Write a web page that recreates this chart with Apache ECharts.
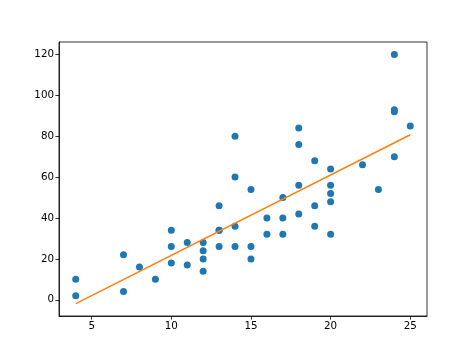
<!DOCTYPE html>
<html>
<head>
<meta charset="utf-8">
<script src="https://cdn.jsdelivr.net/npm/echarts@6/dist/echarts.min.js"></script>
<style>
  html, body { margin: 0; padding: 0; background: #fff; }
  #chart { width: 474px; height: 355px; }
</style>
</head>
<body>
<div id="chart"></div>
<script>
// 数据：speed 与 dist 散点
const speed = [4, 4, 7, 7, 8, 9, 10, 10, 10, 11, 11, 12, 12, 12, 12, 13, 13, 13, 13, 14, 14, 14, 14, 15, 15, 15, 16, 16, 17, 17, 17, 18, 18, 18, 18, 19, 19, 19, 20, 20, 20, 20, 20, 22, 23, 24, 24, 24, 24, 25];
const dist = [2, 10, 4, 22, 16, 10, 18, 26, 34, 17, 28, 14, 20, 24, 28, 26, 34, 34, 46, 26, 36, 60, 80, 20, 26, 54, 32, 40, 32, 40, 50, 42, 56, 76, 84, 36, 46, 68, 32, 48, 52, 56, 64, 66, 54, 70, 92, 93, 120, 85];
// 拟合直线两端点
const fitX = [4, 25];
const fitY = [-1.85, 80.73];
const xTicks = [5, 10, 15, 20, 25];
const yTicks = [0, 20, 40, 60, 80, 100, 120];

const chart = echarts.init(document.getElementById('chart'));

const axisCommon = {
  type: 'value',
  axisLine: { show: true, onZero: false, lineStyle: { color: '#000', width: 0.8 } },
  axisTick: { show: true, length: 3.6, lineStyle: { color: '#000', width: 0.8 } },
  axisLabel: { color: '#000', fontFamily: 'DejaVu Sans', fontSize: 10.3, margin: 5 },
  splitLine: { show: false }
};

chart.setOption({
  animation: false,
  grid: { left: 59, right: 47, top: 42, bottom: 39, show: true, borderColor: '#000', borderWidth: 0.8 },
  xAxis: Object.assign({}, axisCommon, {
    min: 2.95, max: 26.05,
    axisTick: Object.assign({}, axisCommon.axisTick, { customValues: xTicks }),
    axisLabel: Object.assign({}, axisCommon.axisLabel, { customValues: xTicks })
  }),
  yAxis: Object.assign({}, axisCommon, {
    min: -7.94, max: 126.1,
    axisTick: Object.assign({}, axisCommon.axisTick, { customValues: yTicks }),
    axisLabel: Object.assign({}, axisCommon.axisLabel, { customValues: yTicks })
  }),
  series: [
    {
      type: 'scatter',
      data: speed.map((s, i) => [s, dist[i]]),
      symbolSize: 7,
      itemStyle: { color: '#1f77b4', opacity: 1 },
      z: 2
    },
    {
      type: 'line',
      data: fitX.map((x, i) => [x, fitY[i]]),
      showSymbol: false,
      lineStyle: { color: '#ff7f0e', width: 1.5 },
      z: 3
    }
  ]
});
</script>
</body>
</html>
